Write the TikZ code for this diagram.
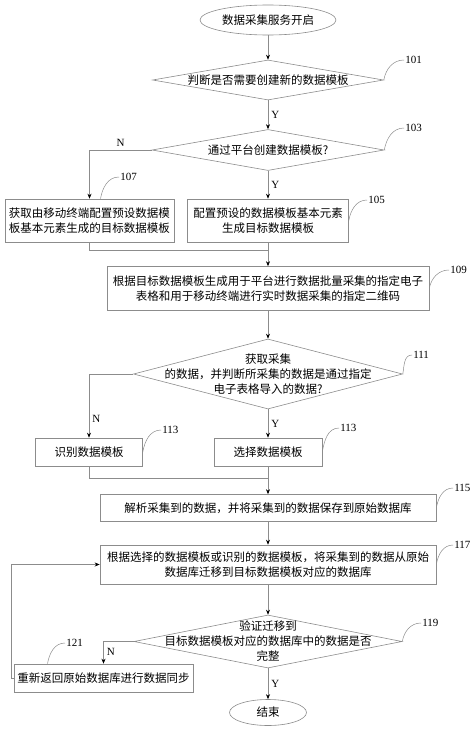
\documentclass[tikz,border=0pt]{standalone}
\usepackage{fontspec}
\setmainfont{Liberation Serif}
\newfontfamily\cjk{Noto Sans CJK SC}
\usepackage{tikz}
\usetikzlibrary{shapes, arrows.meta}
\definecolor{linegray}{RGB}{140,140,140}

\begin{document}
\begin{tikzpicture}[x=1pt, y=-1pt, line width=0.6pt,
    box/.style = {draw=linegray, rectangle, inner sep=0pt, align=center, font=\cjk\fontsize{11.5}{15.5}\selectfont},
    term/.style = {draw=linegray, ellipse, inner sep=0pt, font=\cjk\fontsize{11.5}{15.5}\selectfont},
    decision/.style = {draw=linegray, diamond, inner sep=0pt},
    dtext/.style = {align=center, inner sep=0pt, font=\cjk\fontsize{11.5}{15}\selectfont},
    tag/.style = {anchor=west, inner sep=1pt, font=\fontsize{11}{13}\selectfont},
    yn/.style = {inner sep=3pt, font=\fontsize{11}{13}\selectfont},
    arr/.style = {draw=linegray, -{Stealth[black, length=5pt, width=4pt]}},
    con/.style = {draw=linegray},
    hook/.style = {draw=linegray, line width=0.5pt}]
    \useasboundingbox (0,0) rectangle (474,731);

    \node[term, minimum width=136pt, minimum height=30pt] (start) at (268,20) {数据采集服务开启};
    \node[decision, minimum width=231pt, minimum height=40pt] (d101) at (268,80) {};
    \node[dtext] (t101) at (d101) {判断是否需要创建新的数据模板};
    \node[decision, minimum width=232pt, minimum height=41pt] (d103) at (268,150) {};
    \node[dtext] (t103) at (d103) {通过平台创建数据模板?};
    \node[box, minimum width=169pt, minimum height=43pt] (b107) at (89.5,220.5) {获取由移动终端配置预设数据模\\板基本元素生成的目标数据模板};
    \node[box, minimum width=161pt, minimum height=43pt] (b105) at (268,220.5) {配置预设的数据模板基本元素\\生成目标数据模板};
    \node[box, minimum width=322pt, minimum height=44pt] (b109) at (268,288.5) {根据目标数据模板生成用于平台进行数据批量采集的指定电子\\表格和用于移动终端进行实时数据采集的指定二维码};
    \node[decision, minimum width=269pt, minimum height=70pt] (d111) at (268,374) {};
    \node[dtext] (t111) at (d111) {获取采集\\的数据，并判断所采集的数据是通过指定\\电子表格导入的数据?};
    \node[box, minimum width=107pt, minimum height=28pt] (b113a) at (89,452) {识别数据模板};
    \node[box, minimum width=108pt, minimum height=28pt] (b113b) at (268,452) {选择数据模板};
    \node[box, minimum width=336pt, minimum height=27pt] (b115) at (268,508) {解析采集到的数据，并将采集到的数据保存到原始数据库};
    \node[box, minimum width=336pt, minimum height=39pt] (b117) at (268,564.5) {根据选择的数据模板或识别的数据模板，将采集到的数据从原始\\数据库迁移到目标数据模板对应的数据库};
    \node[decision, minimum width=268pt, minimum height=53pt] (d119) at (268,641.5) {};
    \node[dtext] (t119) at (d119) {验证迁移到\\目标数据模板对应的数据库中的数据是否\\完整};
    \node[box, minimum width=179pt, minimum height=28pt] (b121) at (103.5,678) {重新返回原始数据库进行数据同步};
    \node[term, minimum width=77pt, minimum height=26pt] (stop) at (268,712.5) {结束};

    \coordinate (j1) at (268,250);
    \coordinate (j2) at (268,478);

    % step numbers
    \node[tag] (n101) at (404,60) {101};
    \node[tag] (n103) at (404,128) {103};
    \node[tag] (n107) at (119,177) {107};
    \node[tag] (n105) at (367,200) {105};
    \node[tag] (n109) at (449,270) {109};
    \node[tag] (n111) at (412,355) {111};
    \node[tag] (n113a) at (161,430) {113};
    \node[tag] (n113b) at (339,428) {113};
    \node[tag] (n115) at (453,488) {115};
    \node[tag] (n117) at (453,545) {117};
    \node[tag] (n119) at (421,623) {119};
    \node[tag] (n121) at (65,643) {121};

    \draw[hook] (d101.east) to[out=80, in=180] (n101.west);
    \draw[hook] (d103.east) to[out=80, in=180] (n103.west);
    \draw[hook] ([xshift=11pt]b107.north) to[out=80, in=180] (n107.west);
    \draw[hook] (b105.east) to[out=80, in=180] (n105.west);
    \draw[hook] (b109.east) to[out=80, in=180] (n109.west);
    \draw[hook] (d111.east) to[out=80, in=180] (n111.west);
    \draw[hook] (b113a.east) to[out=80, in=180] (n113a.west);
    \draw[hook] (b113b.east) to[out=80, in=180] (n113b.west);
    \draw[hook] (b115.east) to[out=80, in=180] (n115.west);
    \draw[hook] (b117.east) to[out=80, in=180] (n117.west);
    \draw[hook] (d119.east) to[out=80, in=180] (n119.west);
    \draw[hook] ([xshift=-56pt]b121.north) to[out=80, in=180] (n121.west);

    % flow
    \draw[arr] (start) -- (d101);
    \draw[arr] (d101) -- node[yn, right] {Y} (d103);
    \draw[arr] (d103.west) -| node[yn, above, pos=0.25] {N} (b107.north);
    \draw[arr] (d103) -- node[yn, right] {Y} (b105);
    \draw[con] (b107.south) |- (j1);
    \draw[arr] (b105) -- (b109);
    \draw[arr] (b109) -- (d111);
    \draw[arr] (d111.west) -| node[yn, right, pos=0.85] {N} (b113a.north);
    \draw[arr] (d111) -- node[yn, right] {Y} (b113b);
    \draw[con] (b113a.south) |- (j2);
    \draw[arr] (b113b) -- (b115);
    \draw[arr] (b115) -- (b117);
    \draw[arr] (b117) -- (d119);
    \draw[arr] (d119.west) -| node[yn, right, pos=0.73] {N} (b121.north);
    \draw[arr] (d119) -- node[yn, right] {Y} (stop);
    \draw[arr] (b121.west) -- ++(-2,0) |- (b117.west);
\end{tikzpicture}
\end{document}
